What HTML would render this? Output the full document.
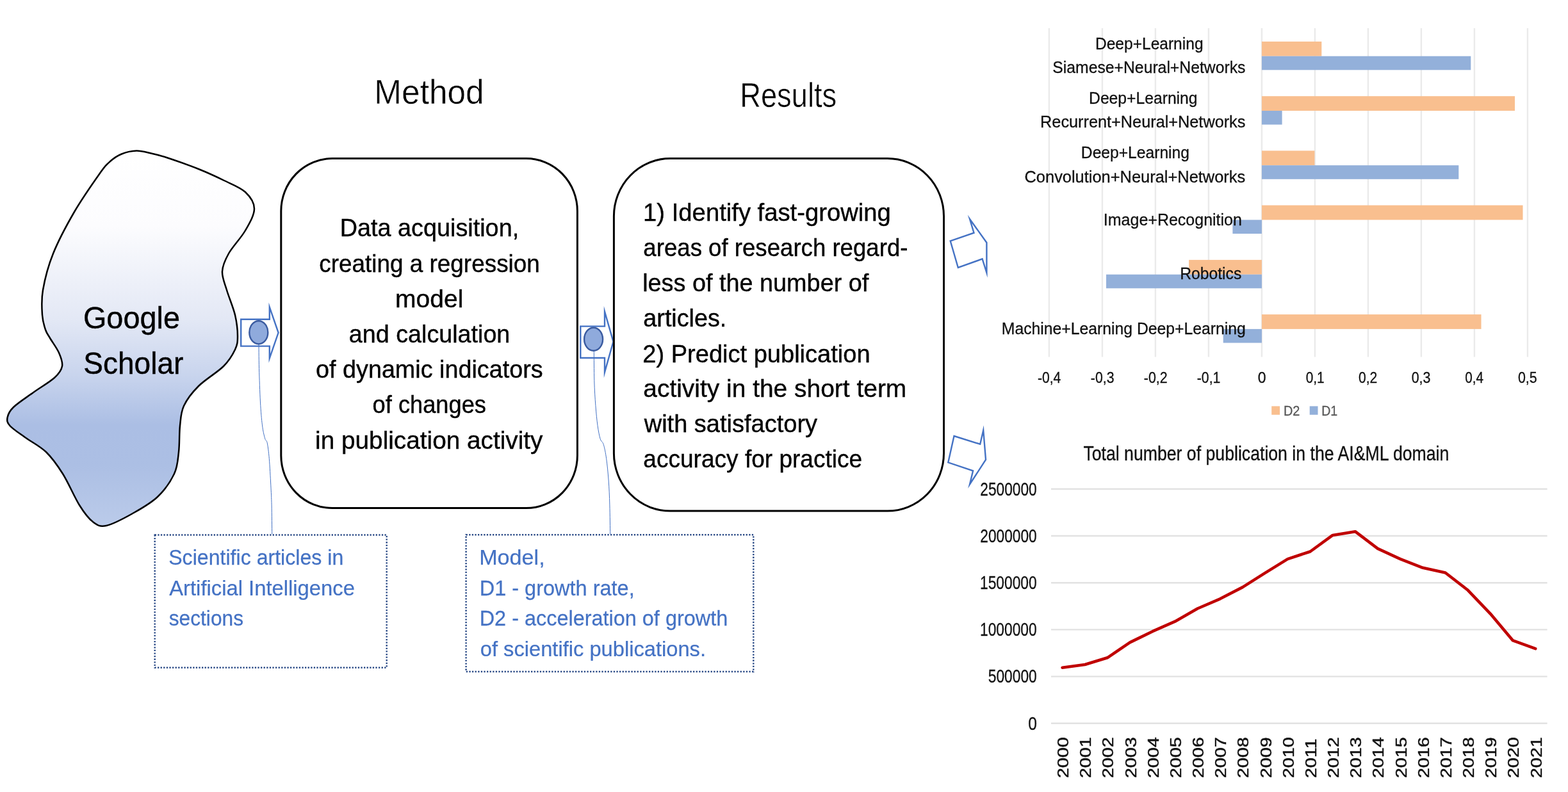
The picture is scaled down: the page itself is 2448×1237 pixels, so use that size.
<!DOCTYPE html>
<html lang="en">
<head>
<meta charset="utf-8">
<title>Method and Results diagram</title>
<style>
html,body{margin:0;padding:0;background:#fff;}
body{width:2448px;height:1237px;overflow:hidden;}
svg{display:block;}
text{font-family:"Liberation Sans",sans-serif;}
</style>
</head>
<body>
<svg width="2448" height="1237" viewBox="0 0 2448 1237">
<rect width="2448" height="1237" fill="#fff"/>
<defs>
<linearGradient id="bg" x1="0" y1="235" x2="0" y2="822" gradientUnits="userSpaceOnUse">
<stop offset="0" stop-color="#ffffff"/>
<stop offset="0.2" stop-color="#fcfcfe"/>
<stop offset="0.45" stop-color="#e3e8f5"/>
<stop offset="0.6" stop-color="#c8d4ed"/>
<stop offset="0.73" stop-color="#abbee4"/>
<stop offset="0.84" stop-color="#acbfe4"/>
<stop offset="1" stop-color="#bbcbea"/>
</linearGradient>
</defs>
<path d="M213.0,235.6 C220.7,235.4 228.2,237.8 236.0,239.5 C243.8,241.2 247.7,241.9 260.0,246.0 C272.3,250.1 295.0,258.0 310.0,264.0 C325.0,270.0 337.8,276.0 350.0,282.0 C362.2,288.0 375.2,292.7 383.0,300.0 C390.8,307.3 397.0,316.0 397.0,326.0 C397.0,336.0 389.7,348.3 383.0,360.0 C376.3,371.7 363.0,385.3 357.0,396.0 C351.0,406.7 347.5,414.5 347.0,424.0 C346.5,433.5 350.7,441.7 354.0,453.0 C357.3,464.3 364.2,480.0 367.0,492.0 C369.8,504.0 371.0,516.0 371.0,525.0 C371.0,534.0 370.7,538.2 367.0,546.0 C363.3,553.8 358.5,562.5 349.0,572.0 C339.5,581.5 320.3,592.7 310.0,603.0 C299.7,613.3 291.8,623.7 287.0,634.0 C282.2,644.3 282.3,653.0 281.0,665.0 C279.7,677.0 280.5,693.5 279.0,706.0 C277.5,718.5 277.5,728.3 272.0,740.0 C266.5,751.7 256.8,765.7 246.0,776.0 C235.2,786.3 220.3,794.5 207.0,802.0 C193.7,809.5 176.3,818.8 166.0,821.0 C155.7,823.2 152.0,820.3 145.0,815.0 C138.0,809.7 131.8,801.5 124.0,789.0 C116.2,776.5 106.7,753.8 98.0,740.0 C89.3,726.2 81.8,715.5 72.0,706.0 C62.2,696.5 48.4,689.8 39.0,683.0 C29.6,676.2 20.1,670.2 15.5,665.0 C10.9,659.8 10.7,656.8 11.6,652.0 C12.5,647.2 14.3,642.5 21.0,636.0 C27.7,629.5 41.3,620.7 52.0,613.0 C62.7,605.3 77.5,596.8 85.0,590.0 C92.5,583.2 95.8,578.5 97.0,572.0 C98.2,565.5 95.2,558.3 92.0,551.0 C88.8,543.7 81.5,534.0 78.0,528.0 C74.5,522.0 73.0,521.0 71.0,515.0 C69.0,509.0 66.7,502.3 66.0,492.0 C65.3,481.7 64.2,469.0 67.0,453.0 C69.8,437.0 74.8,416.3 83.0,396.0 C91.2,375.7 104.0,351.7 116.0,331.0 C128.0,310.3 145.7,285.2 155.0,272.0 C164.3,258.8 166.2,257.2 172.0,252.0 C177.8,246.8 183.2,243.2 190.0,240.5 C196.8,237.8 205.3,235.8 213.0,235.6Z" fill="url(#bg)" stroke="#000" stroke-width="2.5" stroke-linejoin="round"/>
<path d="M376.2,498.7 L420.8,498.7 L420.8,479.6 L434.6,519.6 L420.8,559.6 L420.8,540.6 L376.2,540.6 Z" fill="#fff" stroke="#4472C4" stroke-width="2.4" stroke-linejoin="miter" stroke-miterlimit="12"/>
<path d="M906.3,509.6 L944.0,509.6 L944.0,486.5 L957.5,533.6 L944.0,581.5 L944.0,559.0 L906.3,559.0 Z" fill="#fff" stroke="#4472C4" stroke-width="2.4" stroke-linejoin="miter" stroke-miterlimit="12"/>
<path d="M404.0,537.8 C404.1,545.1 404.2,565.8 404.7,581.8 C405.2,597.8 405.9,619.4 406.8,633.6 C407.7,647.8 408.7,658.6 409.9,667.2 C411.1,675.8 412.6,681.2 413.8,685.3 C415.0,689.4 416.1,686.6 417.2,691.8 C418.3,697.0 419.4,705.4 420.3,716.4 C421.2,727.4 422.2,745.7 422.8,757.8 C423.4,769.9 423.8,776.2 424.1,788.9 C424.4,801.6 424.6,826.7 424.7,834.2" fill="none" stroke="#4472C4" stroke-width="1.0"/>
<path d="M927.3,548.1 C927.4,555.9 927.4,580.5 927.8,594.7 C928.2,609.0 929.0,622.0 929.9,633.6 C930.8,645.2 931.8,656.0 933.0,664.6 C934.2,673.2 935.6,680.3 937.1,685.3 C938.6,690.3 940.7,689.2 942.3,694.4 C943.9,699.6 945.4,707.1 946.7,716.4 C948.0,725.7 949.2,737.9 950.1,750.0 C951.0,762.1 951.5,774.9 951.9,788.9 C952.3,802.9 952.6,826.7 952.7,834.2" fill="none" stroke="#4472C4" stroke-width="1.0"/>
<ellipse cx="403.8" cy="519.2" rx="14.5" ry="18" fill="#8FAADC" stroke="#3A5BA0" stroke-width="2.4"/>
<ellipse cx="926.6" cy="529.8" rx="14.5" ry="18" fill="#8FAADC" stroke="#3A5BA0" stroke-width="2.4"/>
<rect x="438.8" y="247.6" width="462.6" height="546.0" rx="80" ry="82" fill="#fff" stroke="#000" stroke-width="3.0"/>
<rect x="958.4" y="247.6" width="515.1" height="550.5" rx="88" ry="90" fill="#fff" stroke="#000" stroke-width="3.0"/>
<path d="M1483.7,376.3 L1520.5,363.7 L1514.0,342.0 L1540.4,379.0 L1540.4,426.0 L1533.6,404.4 L1495.8,418.0 Z" fill="#fff" stroke="#4472C4" stroke-width="2.4" stroke-linejoin="miter" stroke-miterlimit="10"/>
<path d="M1489.5,681.0 L1530.2,693.7 L1535.2,672.0 L1539.0,718.0 L1514.0,756.5 L1519.1,735.4 L1480.3,722.3 Z" fill="#fff" stroke="#4472C4" stroke-width="2.4" stroke-linejoin="miter" stroke-miterlimit="10"/>
<rect x="241.7" y="835.5" width="362.0" height="207.2" fill="#fff" stroke="#2A4A86" stroke-width="2.4" stroke-dasharray="2.3 2.3"/>
<rect x="727.6" y="835.3" width="448.7" height="213.7" fill="#fff" stroke="#2A4A86" stroke-width="2.4" stroke-dasharray="2.3 2.3"/>
<line x1="1637.9" y1="44" x2="1637.9" y2="557.5" stroke="#EAEAEA" stroke-width="2.4"/>
<line x1="1720.9" y1="44" x2="1720.9" y2="557.5" stroke="#EAEAEA" stroke-width="2.4"/>
<line x1="1803.9" y1="44" x2="1803.9" y2="557.5" stroke="#EAEAEA" stroke-width="2.4"/>
<line x1="1886.9" y1="44" x2="1886.9" y2="557.5" stroke="#EAEAEA" stroke-width="2.4"/>
<line x1="1969.9" y1="44" x2="1969.9" y2="557.5" stroke="#EAEAEA" stroke-width="2.4"/>
<line x1="2052.9" y1="44" x2="2052.9" y2="557.5" stroke="#EAEAEA" stroke-width="2.4"/>
<line x1="2135.9" y1="44" x2="2135.9" y2="557.5" stroke="#EAEAEA" stroke-width="2.4"/>
<line x1="2218.9" y1="44" x2="2218.9" y2="557.5" stroke="#EAEAEA" stroke-width="2.4"/>
<line x1="2301.9" y1="44" x2="2301.9" y2="557.5" stroke="#EAEAEA" stroke-width="2.4"/>
<line x1="2384.9" y1="44" x2="2384.9" y2="557.5" stroke="#EAEAEA" stroke-width="2.4"/>
<rect x="1969.9" y="64.9" width="93.4" height="22.8" fill="#F9BF8F"/>
<rect x="1969.9" y="87.7" width="326.4" height="21.6" fill="#93B0DA"/>
<rect x="1969.9" y="150.2" width="395.1" height="22.8" fill="#F9BF8F"/>
<rect x="1969.9" y="173.0" width="31.7" height="21.6" fill="#93B0DA"/>
<rect x="1969.9" y="235.4" width="82.5" height="22.8" fill="#F9BF8F"/>
<rect x="1969.9" y="258.2" width="307.4" height="21.6" fill="#93B0DA"/>
<rect x="1969.9" y="320.6" width="407.6" height="22.8" fill="#F9BF8F"/>
<rect x="1924.4" y="343.4" width="45.5" height="21.6" fill="#93B0DA"/>
<rect x="1856.1" y="405.9" width="113.8" height="22.8" fill="#F9BF8F"/>
<rect x="1727.0" y="428.7" width="242.9" height="21.6" fill="#93B0DA"/>
<rect x="1969.9" y="491.1" width="342.6" height="22.8" fill="#F9BF8F"/>
<rect x="1909.7" y="513.9" width="60.2" height="21.6" fill="#93B0DA"/>
<rect x="1985.2" y="634.4" width="12.9" height="13.4" fill="#F9BF8F"/>
<rect x="2044.7" y="634.4" width="12.8" height="13.4" fill="#93B0DA"/>
<line x1="1641" y1="1129.8" x2="2415.6" y2="1129.8" stroke="#E2E2E2" stroke-width="2.4"/>
<line x1="1641" y1="1056.6" x2="2415.6" y2="1056.6" stroke="#E2E2E2" stroke-width="2.4"/>
<line x1="1641" y1="983.4" x2="2415.6" y2="983.4" stroke="#E2E2E2" stroke-width="2.4"/>
<line x1="1641" y1="910.2" x2="2415.6" y2="910.2" stroke="#E2E2E2" stroke-width="2.4"/>
<line x1="1641" y1="837.0" x2="2415.6" y2="837.0" stroke="#E2E2E2" stroke-width="2.4"/>
<line x1="1641" y1="763.8" x2="2415.6" y2="763.8" stroke="#E2E2E2" stroke-width="2.4"/>
<polyline points="1658.6,1042.8 1693.8,1038.0 1728.9,1027.3 1764.1,1003.4 1799.3,986.2 1834.4,970.7 1869.6,950.5 1904.8,935.3 1940.0,917.1 1975.1,894.9 2010.3,873.1 2045.5,861.5 2080.6,835.9 2115.8,830.2 2151.0,856.9 2186.2,873.1 2221.3,886.8 2256.5,894.5 2291.7,921.8 2326.8,958.6 2362.0,1000.4 2397.2,1013.1" fill="none" stroke="#C00000" stroke-width="4.6" stroke-linejoin="round" stroke-linecap="round"/>
<g>
<text transform="translate(584.29,162.00) scale(0.9732,1)" font-size="52.8" fill="#000000" stroke="#fff" stroke-width="0.5">Method</text>
<text transform="translate(1155.26,167.00) scale(0.8574,1)" font-size="52.8" fill="#000000" stroke="#fff" stroke-width="0.5">Results</text>
<text transform="translate(129.90,513.30) scale(0.9844,1)" font-size="47.6" fill="#000000" stroke="#000" stroke-width="0.4">Google</text>
<text transform="translate(130.26,583.90) scale(0.9676,1)" font-size="47.6" fill="#000000" stroke="#000" stroke-width="0.4">Scholar</text>
<text transform="translate(530.75,369.00) scale(0.9619,1)" font-size="39.3" fill="#000000" stroke="#000" stroke-width="0.4">Data acquisition,</text>
<text transform="translate(498.25,424.70) scale(0.9393,1)" font-size="39.3" fill="#000000" stroke="#000" stroke-width="0.4">creating a regression</text>
<text transform="translate(617.06,479.50) scale(0.9932,1)" font-size="39.3" fill="#000000" stroke="#000" stroke-width="0.4">model</text>
<text transform="translate(544.82,534.90) scale(0.9596,1)" font-size="39.3" fill="#000000" stroke="#000" stroke-width="0.4">and calculation</text>
<text transform="translate(493.02,590.00) scale(0.9610,1)" font-size="39.3" fill="#000000" stroke="#000" stroke-width="0.4">of dynamic indicators</text>
<text transform="translate(581.57,645.00) scale(0.9230,1)" font-size="39.3" fill="#000000" stroke="#000" stroke-width="0.4">of changes</text>
<text transform="translate(492.08,700.50) scale(0.9861,1)" font-size="39.3" fill="#000000" stroke="#000" stroke-width="0.4">in publication activity</text>
<text transform="translate(1004.11,344.90) scale(0.9731,1)" font-size="39.3" fill="#000000" stroke="#000" stroke-width="0.4">1) Identify fast-growing</text>
<text transform="translate(1004.36,400.20) scale(0.9320,1)" font-size="39.3" fill="#000000" stroke="#000" stroke-width="0.4">areas of research regard-</text>
<text transform="translate(1003.14,455.10) scale(0.9625,1)" font-size="39.3" fill="#000000" stroke="#000" stroke-width="0.4">less of the number of</text>
<text transform="translate(1004.32,510.00) scale(0.9608,1)" font-size="39.3" fill="#000000" stroke="#000" stroke-width="0.4">articles.</text>
<text transform="translate(1003.32,565.90) scale(0.9682,1)" font-size="39.3" fill="#000000" stroke="#000" stroke-width="0.4">2) Predict publication</text>
<text transform="translate(1004.28,620.20) scale(0.9905,1)" font-size="39.3" fill="#000000" stroke="#000" stroke-width="0.4">activity in the short term</text>
<text transform="translate(1005.69,675.10) scale(0.9673,1)" font-size="39.3" fill="#000000" stroke="#000" stroke-width="0.4">with satisfactory</text>
<text transform="translate(1004.34,729.60) scale(0.9429,1)" font-size="39.3" fill="#000000" stroke="#000" stroke-width="0.4">accuracy for practice</text>
<text transform="translate(263.20,882.10) scale(0.9563,1)" font-size="33.6" fill="#4472C4" stroke="#4472C4" stroke-width="0.25">Scientific articles in</text>
<text transform="translate(264.20,929.60) scale(0.9761,1)" font-size="33.6" fill="#4472C4" stroke="#4472C4" stroke-width="0.25">Artificial Intelligence</text>
<text transform="translate(263.70,976.70) scale(0.9442,1)" font-size="33.6" fill="#4472C4" stroke="#4472C4" stroke-width="0.25">sections</text>
<text transform="translate(748.13,882.40) scale(1.0176,1)" font-size="33.6" fill="#4472C4" stroke="#4472C4" stroke-width="0.25">Model,</text>
<text transform="translate(748.66,929.80) scale(0.9678,1)" font-size="33.6" fill="#4472C4" stroke="#4472C4" stroke-width="0.25">D1 - growth rate,</text>
<text transform="translate(748.67,977.30) scale(0.9655,1)" font-size="33.6" fill="#4472C4" stroke="#4472C4" stroke-width="0.25">D2 - acceleration of growth</text>
<text transform="translate(749.78,1024.50) scale(0.9726,1)" font-size="33.6" fill="#4472C4" stroke="#4472C4" stroke-width="0.25">of scientific publications.</text>
<text transform="translate(1709.98,77.10) scale(0.9554,1)" font-size="25.7" fill="#111111" stroke="#111" stroke-width="0.3">Deep+Learning</text>
<text transform="translate(1643.33,114.00) scale(0.9627,1)" font-size="25.7" fill="#111111" stroke="#111" stroke-width="0.3">Siamese+Neural+Networks</text>
<text transform="translate(1700.07,162.20) scale(0.9611,1)" font-size="25.7" fill="#111111" stroke="#111" stroke-width="0.3">Deep+Learning</text>
<text transform="translate(1624.12,199.40) scale(0.9837,1)" font-size="25.7" fill="#111111" stroke="#111" stroke-width="0.3">Recurrent+Neural+Networks</text>
<text transform="translate(1687.87,247.30) scale(0.9588,1)" font-size="25.7" fill="#111111" stroke="#111" stroke-width="0.3">Deep+Learning</text>
<text transform="translate(1599.51,284.50) scale(0.9898,1)" font-size="25.7" fill="#111111" stroke="#111" stroke-width="0.3">Convolution+Neural+Networks</text>
<text transform="translate(1722.85,351.50) scale(0.9730,1)" font-size="25.7" fill="#111111" stroke="#111" stroke-width="0.3">Image+Recognition</text>
<text transform="translate(1842.17,436.10) scale(0.9622,1)" font-size="25.7" fill="#111111" stroke="#111" stroke-width="0.3">Robotics</text>
<text transform="translate(1563.77,521.70) scale(0.9635,1)" font-size="25.7" fill="#111111" stroke="#111" stroke-width="0.3">Machine+Learning Deep+Learning</text>
<text transform="translate(1619.94,597.50) scale(0.8985,1)" font-size="23.5" fill="#111111" stroke="#111" stroke-width="0.3">-0,4</text>
<text transform="translate(1702.84,597.50) scale(0.9045,1)" font-size="23.5" fill="#111111" stroke="#111" stroke-width="0.3">-0,3</text>
<text transform="translate(1785.83,597.50) scale(0.9096,1)" font-size="23.5" fill="#111111" stroke="#111" stroke-width="0.3">-0,2</text>
<text transform="translate(1868.74,597.50) scale(0.9045,1)" font-size="23.5" fill="#111111" stroke="#111" stroke-width="0.3">-0,1</text>
<text transform="translate(1963.68,597.50) scale(0.9787,1)" font-size="23.5" fill="#111111" stroke="#111" stroke-width="0.3">0</text>
<text transform="translate(2038.65,597.50) scale(0.8844,1)" font-size="23.5" fill="#111111" stroke="#111" stroke-width="0.3">0,1</text>
<text transform="translate(2120.94,597.50) scale(0.8973,1)" font-size="23.5" fill="#111111" stroke="#111" stroke-width="0.3">0,2</text>
<text transform="translate(2203.63,597.50) scale(0.9102,1)" font-size="23.5" fill="#111111" stroke="#111" stroke-width="0.3">0,3</text>
<text transform="translate(2287.25,597.50) scale(0.8804,1)" font-size="23.5" fill="#111111" stroke="#111" stroke-width="0.3">0,4</text>
<text transform="translate(2369.93,597.50) scale(0.9102,1)" font-size="23.5" fill="#111111" stroke="#111" stroke-width="0.3">0,5</text>
<text transform="translate(2003.94,649.10) scale(0.8973,1)" font-size="22.2" fill="#595959" stroke="#595959" stroke-width="0.35">D2</text>
<text transform="translate(2063.17,649.10) scale(0.8817,1)" font-size="22.2" fill="#595959" stroke="#595959" stroke-width="0.35">D1</text>
<text transform="translate(1691.38,719.20) scale(0.8335,1)" font-size="32.0" fill="#111111" stroke="#111" stroke-width="0.35">Total number of publication in the AI&amp;ML domain</text>
<text transform="translate(1605.13,1139.60) scale(0.8483,1)" font-size="29.0" fill="#111111" stroke="#111" stroke-width="0.3">0</text>
<text transform="translate(1542.79,1066.40) scale(0.7851,1)" font-size="29.0" fill="#111111" stroke="#111" stroke-width="0.3">500000</text>
<text transform="translate(1529.97,993.20) scale(0.7865,1)" font-size="29.0" fill="#111111" stroke="#111" stroke-width="0.3">1000000</text>
<text transform="translate(1529.97,920.00) scale(0.7865,1)" font-size="29.0" fill="#111111" stroke="#111" stroke-width="0.3">1500000</text>
<text transform="translate(1530.34,846.80) scale(0.7833,1)" font-size="29.0" fill="#111111" stroke="#111" stroke-width="0.3">2000000</text>
<text transform="translate(1530.34,773.60) scale(0.7833,1)" font-size="29.0" fill="#111111" stroke="#111" stroke-width="0.3">2500000</text>
<text transform="translate(1668.00,1215.25) rotate(-90) scale(1.2481,1)" font-size="23.0" fill="#111" stroke="#111" stroke-width="0.45">2000</text>
<text transform="translate(1703.17,1215.25) rotate(-90) scale(1.2481,1)" font-size="23.0" fill="#111" stroke="#111" stroke-width="0.45">2001</text>
<text transform="translate(1738.34,1215.25) rotate(-90) scale(1.2481,1)" font-size="23.0" fill="#111" stroke="#111" stroke-width="0.45">2002</text>
<text transform="translate(1773.51,1215.25) rotate(-90) scale(1.2481,1)" font-size="23.0" fill="#111" stroke="#111" stroke-width="0.45">2003</text>
<text transform="translate(1808.68,1215.25) rotate(-90) scale(1.2481,1)" font-size="23.0" fill="#111" stroke="#111" stroke-width="0.45">2004</text>
<text transform="translate(1843.85,1215.25) rotate(-90) scale(1.2481,1)" font-size="23.0" fill="#111" stroke="#111" stroke-width="0.45">2005</text>
<text transform="translate(1879.02,1215.25) rotate(-90) scale(1.2481,1)" font-size="23.0" fill="#111" stroke="#111" stroke-width="0.45">2006</text>
<text transform="translate(1914.19,1215.25) rotate(-90) scale(1.2481,1)" font-size="23.0" fill="#111" stroke="#111" stroke-width="0.45">2007</text>
<text transform="translate(1949.36,1215.25) rotate(-90) scale(1.2481,1)" font-size="23.0" fill="#111" stroke="#111" stroke-width="0.45">2008</text>
<text transform="translate(1984.53,1215.25) rotate(-90) scale(1.2481,1)" font-size="23.0" fill="#111" stroke="#111" stroke-width="0.45">2009</text>
<text transform="translate(2019.70,1215.25) rotate(-90) scale(1.2481,1)" font-size="23.0" fill="#111" stroke="#111" stroke-width="0.45">2010</text>
<text transform="translate(2054.87,1215.25) rotate(-90) scale(1.2481,1)" font-size="23.0" fill="#111" stroke="#111" stroke-width="0.45">2011</text>
<text transform="translate(2090.04,1215.25) rotate(-90) scale(1.2481,1)" font-size="23.0" fill="#111" stroke="#111" stroke-width="0.45">2012</text>
<text transform="translate(2125.21,1215.25) rotate(-90) scale(1.2481,1)" font-size="23.0" fill="#111" stroke="#111" stroke-width="0.45">2013</text>
<text transform="translate(2160.38,1215.25) rotate(-90) scale(1.2481,1)" font-size="23.0" fill="#111" stroke="#111" stroke-width="0.45">2014</text>
<text transform="translate(2195.55,1215.25) rotate(-90) scale(1.2481,1)" font-size="23.0" fill="#111" stroke="#111" stroke-width="0.45">2015</text>
<text transform="translate(2230.72,1215.25) rotate(-90) scale(1.2481,1)" font-size="23.0" fill="#111" stroke="#111" stroke-width="0.45">2016</text>
<text transform="translate(2265.89,1215.25) rotate(-90) scale(1.2481,1)" font-size="23.0" fill="#111" stroke="#111" stroke-width="0.45">2017</text>
<text transform="translate(2301.06,1215.25) rotate(-90) scale(1.2481,1)" font-size="23.0" fill="#111" stroke="#111" stroke-width="0.45">2018</text>
<text transform="translate(2336.23,1215.25) rotate(-90) scale(1.2481,1)" font-size="23.0" fill="#111" stroke="#111" stroke-width="0.45">2019</text>
<text transform="translate(2371.40,1215.25) rotate(-90) scale(1.2481,1)" font-size="23.0" fill="#111" stroke="#111" stroke-width="0.45">2020</text>
<text transform="translate(2406.57,1215.25) rotate(-90) scale(1.2481,1)" font-size="23.0" fill="#111" stroke="#111" stroke-width="0.45">2021</text>
</g>
</svg>
</body>
</html>
